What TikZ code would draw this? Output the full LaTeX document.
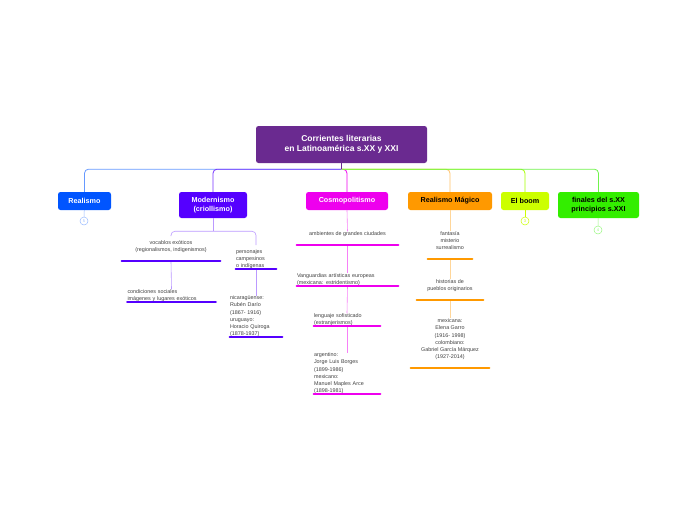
\documentclass[tikz,border=0pt]{standalone}
\usepackage{fontspec}
\setmainfont{Liberation Sans}
\usetikzlibrary{positioning,calc}
\definecolor{rootc}{HTML}{6A2A90}
\definecolor{realc}{HTML}{0055FF}
\definecolor{modc}{HTML}{5500FF}
\definecolor{cosc}{HTML}{EE00EE}
\definecolor{magc}{HTML}{FF9900}
\definecolor{boomc}{HTML}{CCFF00}
\definecolor{finc}{HTML}{33EE00}

\begin{document}
\begin{tikzpicture}[x=1pt,y=-1pt,
        topic/.style={rectangle, rounded corners=2.5pt, text=white, font=\fontsize{7.2}{8.4}\selectfont\bfseries, align=center, inner sep=0pt},
        leaf/.style={inner sep=0pt, font=\fontsize{5.4}{7.2}\selectfont, text=black!75},
        ul/.style={line width=2.6pt, line cap=round},
        link/.style={line width=0.8pt, rounded corners=4pt},
        num/.style={circle, draw, line width=0.5pt, minimum size=8pt, inner sep=0pt, font=\fontsize{4}{4}\selectfont}
    ]
        \useasboundingbox (0,0) rectangle (697,520);

        % Nodes
        \node[topic, fill=rootc, minimum width=171, minimum height=37, font=\fontsize{8.5}{10}\selectfont\bfseries] (root) at (341.5,144.5) {Corrientes literarias\\en Latinoamérica s.XX y XXI};
        \node[topic, fill=realc, minimum width=53, minimum height=18] (real) at (84.5,201) {Realismo};
        \node[topic, fill=modc, minimum width=68, minimum height=26] (mod) at (213,205) {Modernismo\\(criollismo)};
        \node[topic, fill=cosc, minimum width=82, minimum height=18] (cos) at (347,201) {Cosmopolitismo};
        \node[topic, fill=magc, minimum width=84, minimum height=18, text=black] (mag) at (450,201) {Realismo Mágico};
        \node[topic, fill=boomc, minimum width=48, minimum height=18, text=black] (boom) at (525,201) {El boom};
        \node[topic, fill=finc, minimum width=81, minimum height=26, text=black] (fin) at (598.5,205) {finales del s.XX\\principios s.XXI};

        \node[num, draw=realc!40, text=realc!40] (n5) at (84,221) {5};
        \node[num, draw=boomc, text=boomc] (n3) at (525,221) {3};
        \node[num, draw=finc!50, text=finc!50] (n4) at (598,230) {4};

        % Modernismo
        \node[leaf, align=center, minimum width=98, anchor=south] (voc) at (171,261) {vocablos exóticos\\(regionalismos, indigenismos)\\[2pt]};
        \node[leaf, align=left, text width=88, anchor=south] (cond) at (171.5,302) {condiciones sociales\\imágenes y lugares exóticos\\[2pt]};
        \node[leaf, align=left, text width=40, anchor=south] (pers) at (256,269) {personajes\\campesinos\\o indígenas\\[2pt]};
        \node[leaf, align=left, text width=52, anchor=south] (nica) at (256,337) {nicaragüense:\\Rubén Darío\\ (1867- 1916)\\uruguayo:\\Horacio Quiroga\\(1878-1937)\\[2pt]};

        % Cosmopolitismo
        \node[leaf, align=center, minimum width=101, anchor=south] (amb) at (347.5,245) {ambientes de grandes ciudades\\[2pt]};
        \node[leaf, align=left, text width=101, anchor=south] (vang) at (347.5,286) {Vanguardias artísticas europeas\\(mexicana: estridentismo)\\[2pt]};
        \node[leaf, align=left, text width=66, anchor=south] (leng) at (347,326) {lenguaje sofisticado\\(extranjerismos)\\[2pt]};
        \node[leaf, align=left, text width=66, anchor=south] (arg) at (347,394) {argentino:\\Jorge Luis Borges\\(1899-1986)\\mexicano:\\Manuel Maples Arce\\(1898-1981)\\[2pt]};

        % Realismo Magico
        \node[leaf, align=center, minimum width=44, anchor=south] (fant) at (450,259) {fantasía\\misterio\\surrealismo\\[2pt]};
        \node[leaf, align=center, minimum width=66, anchor=south] (hist) at (450,300) {historias de\\pueblos originarios\\[2pt]};
        \node[leaf, align=center, minimum width=78, anchor=south] (mex) at (450,368) {mexicana:\\Elena Garro\\(1916- 1998)\\colombiano:\\Gabriel García Márquez\\(1927-2014)\\[2pt]};

        % Links
        \coordinate (hub) at ($(root.south)+(0,6)$);
        \draw[link, realc!60] (hub) -| (real);
        \draw[link, modc!80] (hub) -| (mod);
        \draw[link, cosc] (hub) -| (cos);
        \draw[link, magc!60] (hub) -| (mag);
        \draw[link, boomc!80!green] (hub) -| (boom);
        \draw[link, finc!70] (hub) -| (fin);
        \draw[link, rootc] (root.south) -- (hub);
        \draw[realc!40, line width=0.5pt] (real) -- (n5);
        \draw[boomc, line width=0.5pt] (boom) -- (n3);
        \draw[finc!50, line width=0.5pt] (fin) -- (n4);

        \draw[modc!40, line width=0.6pt] (mod.south) -- ++(0,13) coordinate (mb);
        \draw[link, modc!40, line width=0.6pt] ($(voc.north)+(0,-4)$) |- (mb) -| ($(pers.north)+(0,-4)$);
        \draw[modc!40, line width=0.6pt] (voc.south) -- (cond.north);
        \draw[modc!40, line width=0.6pt] (pers.south) -- (nica.north);
        \draw[cosc!50, line width=0.6pt] (cos.south) -- (amb.north);
        \draw[cosc!50, line width=0.6pt] (amb.south) -- (vang.north);
        \draw[cosc!50, line width=0.6pt] (vang.south) -- (leng.north);
        \draw[cosc!50, line width=0.6pt] (leng.south) -- (arg.north);
        \draw[magc!40, line width=0.6pt] (mag.south) -- (fant.north);
        \draw[magc!40, line width=0.6pt] (fant.south) -- (hist.north);
        \draw[magc!40, line width=0.6pt] (hist.south) -- (mex.north);

        % Underlines
        \foreach \n/\c in {voc/modc, cond/modc, pers/modc, nica/modc, amb/cosc, vang/cosc, leng/cosc, arg/cosc, fant/magc, hist/magc, mex/magc}
            \draw[ul, \c] (\n.south west) -- (\n.south east);
    \end{tikzpicture}
\end{document}
